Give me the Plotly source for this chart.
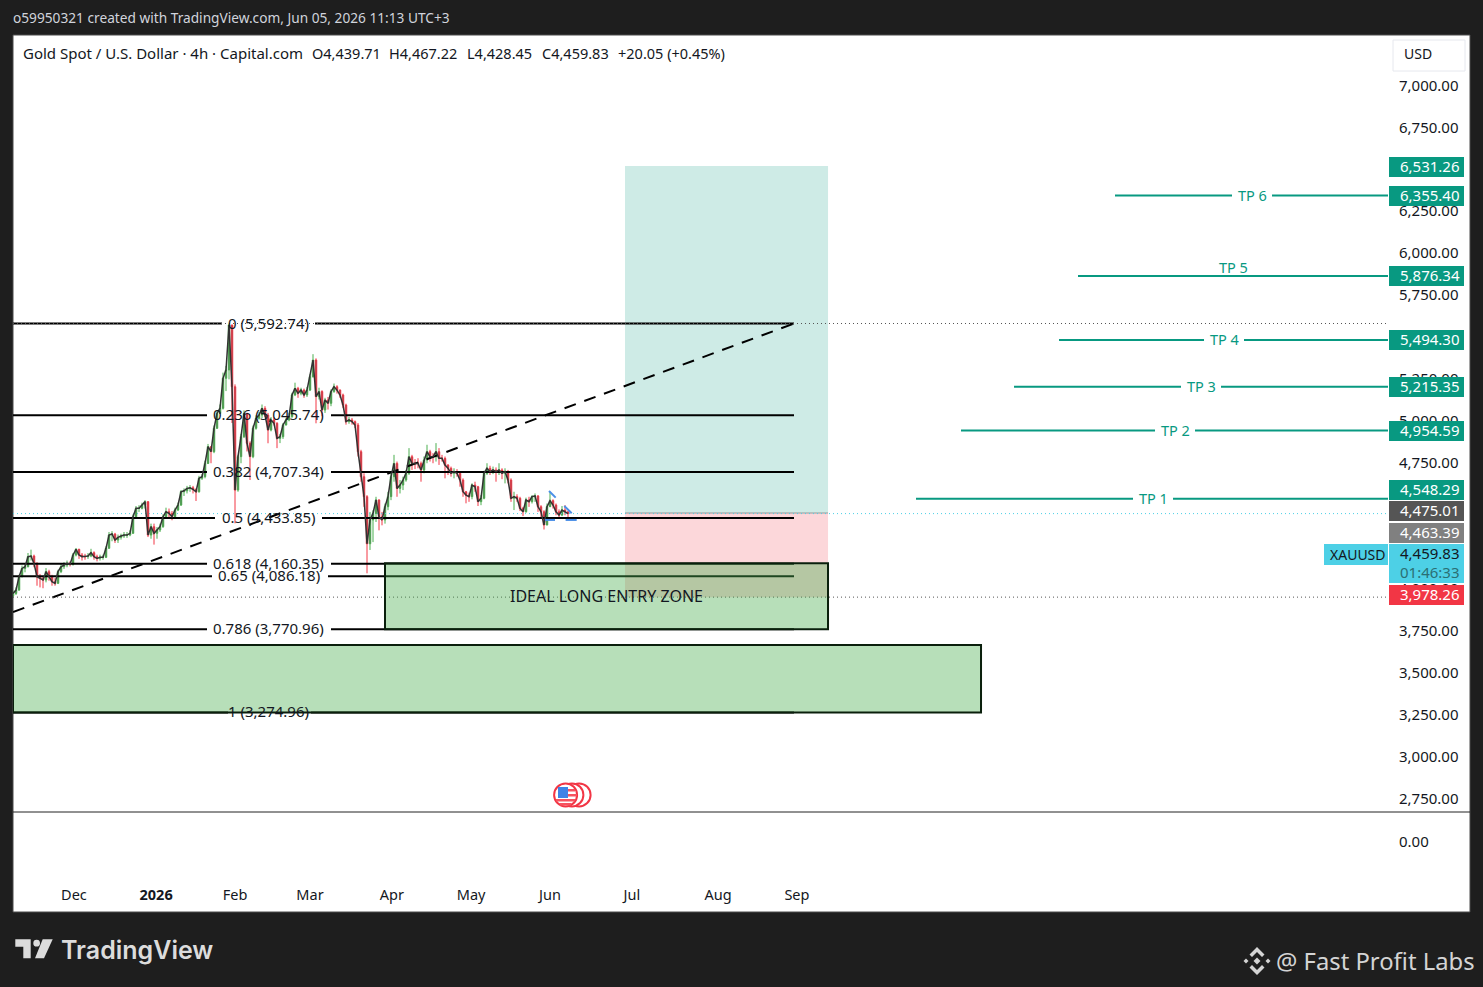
import plotly.graph_objects as go

W = 1483
H = 987

# 4h gold candles, thinned to one value per chart slot
closes = [3984,4004,4084,4133,4143,4203,4207,4163,4084,4074,
          4064,4114,4084,4054,4044,4114,4143,4153,4163,4157,
          4213,4247,4213,4203,4203,4207,4227,4203,4193,4199,
          4199,4253,4332,4338,4302,4318,4326,4332,4332,4342,
          4441,4491,4491,4511,4531,4332,4382,4342,4362,4382,
          4441,4471,4461,4441,4481,4511,4590,4596,4610,4614,
          4604,4590,4670,4680,4759,4859,4829,4968,5057,5087,
          5266,5316,5584,5216,4600,4799,4918,5057,4879,4799,
          4968,5028,5047,5087,5047,4958,5018,4998,4908,4918,
          4988,5018,5038,5167,5206,5177,5196,5167,5196,5276,
          5375,5157,5187,5077,5137,5117,5187,5216,5196,5167,
          5107,5008,5018,5008,4988,4829,4680,4561,4280,4422,
          4461,4541,4441,4422,4501,4561,4680,4759,4610,4630,
          4660,4700,4799,4759,4759,4759,4720,4779,4829,4799,
          4799,4829,4789,4789,4749,4730,4700,4710,4700,4660,
          4590,4570,4561,4630,4620,4531,4551,4700,4730,4710,
          4720,4710,4720,4700,4710,4660,4551,4561,4551,4491,
          4471,4541,4531,4561,4565,4501,4471,4392,4501,4537,
          4511,4471,4451,4481,4471,4460]
highs = [4000,4020,4095,4150,4165,4225,4245,4215,4170,4100,
         4085,4135,4125,4095,4075,4125,4160,4170,4180,4175,
         4225,4255,4250,4225,4220,4225,4250,4235,4215,4215,
         4215,4265,4350,4355,4345,4335,4340,4350,4350,4360,
         4455,4505,4510,4525,4540,4500,4400,4400,4380,4400,
         4455,4495,4490,4475,4495,4525,4600,4610,4625,4630,
         4625,4610,4685,4695,4775,4875,4860,4985,5075,5110,
         5300,5340,5592,5575,5230,4810,4935,5075,5060,4890,
         4985,5045,5065,5110,5100,5060,5035,5035,5005,4935,
         5000,5030,5060,5180,5240,5215,5210,5205,5215,5290,
         5410,5385,5210,5195,5150,5155,5200,5235,5225,5200,
         5175,5115,5035,5030,5015,5000,4840,4700,4570,4470,
         4480,4560,4545,4470,4520,4590,4700,4810,4770,4660,
         4680,4720,4850,4810,4785,4790,4770,4800,4870,4840,
         4820,4880,4850,4810,4800,4755,4740,4730,4725,4710,
         4670,4595,4585,4640,4650,4625,4570,4715,4760,4745,
         4740,4735,4760,4730,4730,4720,4670,4590,4575,4560,
         4500,4555,4560,4570,4580,4570,4510,4480,4520,4590,
         4545,4520,4485,4505,4510,4467]
lows = [3960,3975,4000,4080,4110,4140,4180,4140,4030,4020,
        4015,4050,4060,4030,4030,4040,4105,4130,4140,4145,
        4150,4205,4190,4180,4185,4190,4200,4185,4175,4180,
        4185,4195,4250,4295,4285,4285,4305,4315,4315,4325,
        4340,4435,4470,4485,4490,4320,4310,4275,4310,4350,
        4375,4430,4435,4420,4435,4475,4505,4565,4580,4590,
        4580,4535,4585,4660,4670,4755,4760,4820,4965,5060,
        5080,5190,5260,5000,4402,4590,4760,4910,4830,4660,
        4790,4960,5020,5030,5035,4879,4950,4985,4850,4880,
        4905,4985,5010,5030,5160,5150,5165,5150,5155,5190,
        5270,4998,5140,5040,5060,5080,5100,5180,5175,5150,
        5090,4990,4995,4990,4970,4800,4650,4500,4104,4243,
        4290,4410,4360,4390,4400,4480,4540,4650,4560,4580,
        4600,4650,4690,4720,4725,4730,4650,4700,4760,4770,
        4760,4770,4750,4770,4670,4690,4680,4670,4680,4620,
        4560,4521,4530,4545,4590,4505,4510,4545,4690,4690,
        4695,4650,4690,4665,4640,4640,4530,4481,4530,4475,
        4445,4465,4500,4520,4530,4470,4440,4365,4390,4500,
        4490,4450,4430,4445,4450,4428]
opens = [3970] + closes[:-1]

# time axis
month_labels = ["Dec", "<b>2026</b>", "Feb", "Mar", "Apr", "May", "Jun", "Jul", "Aug", "Sep"]
month_slots = [20.3, 47.7, 74, 99, 126.3, 152.7, 179, 206.3, 235, 261.3]
# 4250, 4500, 5500 and 6500 sit fully behind the price tags in the picture
price_ticks = [2750, 3000, 3250, 3500, 3750, 4000, 4750, 5000, 5250,
               5750, 6000, 6250, 6750, 7000]

# fib retracement
fib_labels = ["0 (5,592.74)", "0.236 (5,045.74)", "0.382 (4,707.34)", "0.5 (4,433.85)",
              "0.618 (4,160.35)", "0.65 (4,086.18)", "0.786 (3,770.96)", "1 (3,274.96)"]
fib_prices = [5592.74, 5045.74, 4707.34, 4433.85, 4160.35, 4086.18, 3770.96, 3274.96]
fib_gap_start = [69.67, 64.67, 64.67, 67.33, 64.67, 66.33, 64.67, 71.67]
fib_gap_end = [100.67, 106, 106, 103, 106, 105, 106, 99.33]
fib_end = 260.33
fib_label_slot = 85.3
trend_slots = [0, 260.33]
trend_prices = [3873, 5592.74]

# take profit levels
tp_names = ["TP 6", "TP 5", "TP 4", "TP 3", "TP 2", "TP 1"]
tp_prices = [6355.40, 5876.34, 5494.30, 5215.35, 4954.59, 4548.29]
tp_start = [367.33, 355, 348.67, 333.67, 316, 301]
tp_gap_start = [406.33, None, 397, 389.33, 380.67, 373.33]
tp_gap_end = [419.67, None, 410.33, 402.67, 394, 386.67]
tp_label_slot = [413, 406.67, 403.67, 396, 387.33, 380]
axis_end = 458.33

# long position and zones
target = 6531.26
entry = 4463.39
stop = 3962
pos_slots = [204, 271.67]
ideal_slots = [124, 271.67]
ideal_prices = [3771, 4164]
lower_slots = [0, 322.67]
lower_prices = [3275, 3677]
last_price = 4459.83

# small blue pattern at the end of the candles
pattern_slots = [[178.67, 180.9], [183.77, 186.23], [177.33, 180.67], [184.2, 187.9]]
pattern_prices = [[4594, 4555], [4505, 4462], [4422, 4422], [4422, 4422]]

# event marks
event_slots = [188.7, 186.3, 184.2]
event_price = 2783

# price scale tags
tag_text = ["6,531.26", "6,355.40", "5,876.34", "5,494.30", "5,215.35", "4,954.59", "4,548.29",
            "4,475.01", "4,463.39", "4,459.83", "01:46:33", "3,978.26"]
tag_colors = ["#089981", "#089981", "#089981", "#089981", "#089981", "#089981", "#089981",
              "#555555", "#808080", "#4dd0e6", "#4dd0e6", "#f23645"]
tag_font = ["white"] * 9 + ["#131722", "#2b6f73", "white"]
tag_pixel_y = [167, 196, 276, 340, 387, 431, 490, 511, 533, 554, 573, 595]

FONT = "Noto Sans"


def px(x):
    return x / W


def py(y):
    return 1 - y / H


def path(points):
    return "M " + " L ".join(f"{px(x)},{py(y)}" for x, y in points) + " Z"


fig = go.Figure()

# fib lines
for i in range(len(fib_prices)):
    fig.add_trace(go.Scatter(
        x=[0, fib_gap_start[i], None, fib_gap_end[i], fib_end],
        y=[fib_prices[i], fib_prices[i], None, fib_prices[i], fib_prices[i]],
        mode="lines", line=dict(color="black", width=2), hoverinfo="skip"
    ))

fig.add_trace(go.Scatter(x=trend_slots, y=trend_prices, mode="lines",
                         line=dict(color="black", width=2, dash="12px,9px"), hoverinfo="skip"))

# dotted price lines
for level, colour in [(fib_prices[0], "#555555"), (stop, "#555555"), (last_price, "#4dd0e6")]:
    fig.add_trace(go.Scatter(x=[0, axis_end], y=[level, level], mode="lines",
                             line=dict(color=colour, width=1, dash="1px,3px"), hoverinfo="skip"))

# candles
fig.add_trace(go.Candlestick(
    x=list(range(len(closes))), open=opens, high=highs, low=lows, close=closes,
    increasing=dict(line=dict(color="#4caf50", width=1), fillcolor="#333333"),
    decreasing=dict(line=dict(color="#f23645", width=1), fillcolor="#333333"),
    whiskerwidth=0
))
fig.add_trace(go.Scatter(x=list(range(len(closes))), y=closes, mode="lines",
                         line=dict(color="#333333", width=1.5), hoverinfo="skip"))

# blue pattern
for xs, ys in zip(pattern_slots, pattern_prices):
    fig.add_trace(go.Scatter(x=xs, y=ys, mode="lines", line=dict(color="#4a8fe7", width=2),
                             hoverinfo="skip"))

# TP lines
for i in range(len(tp_prices)):
    p = tp_prices[i]
    if tp_gap_start[i] is None:
        xs, ys = [tp_start[i], axis_end], [p, p]
    else:
        xs = [tp_start[i], tp_gap_start[i], None, tp_gap_end[i], axis_end]
        ys = [p, p, None, p, p]
    fig.add_trace(go.Scatter(x=xs, y=ys, mode="lines", line=dict(color="#089981", width=2),
                             hoverinfo="skip"))

# events
fig.add_trace(go.Scatter(x=event_slots, y=[event_price] * 3, mode="markers",
                         marker=dict(size=23, color="white", line=dict(color="#f23645", width=2)),
                         hoverinfo="skip"))

# second pane keeps the 0.00 scale
fig.add_trace(go.Scatter(x=[0], y=[0], yaxis="y2", mode="markers", marker=dict(opacity=0),
                         hoverinfo="skip"))

shapes = [
    # chart frame
    dict(type="rect", xref="paper", yref="paper", x0=px(13), x1=px(1470), y0=py(912), y1=py(35),
         fillcolor="white", line=dict(color="#4a4a4a", width=1), layer="below"),
    # long position
    dict(type="rect", x0=pos_slots[0], x1=pos_slots[1], y0=entry, y1=target,
         fillcolor="rgba(8,153,129,0.2)", line_width=0, layer="below"),
    dict(type="rect", x0=pos_slots[0], x1=pos_slots[1], y0=stop, y1=entry,
         fillcolor="rgba(242,54,69,0.2)", line_width=0, layer="below"),
    dict(type="line", x0=pos_slots[0], x1=pos_slots[1], y0=entry, y1=entry,
         line=dict(color="#999999", width=1), layer="below"),
    # zones
    dict(type="rect", x0=ideal_slots[0], x1=ideal_slots[1], y0=ideal_prices[0], y1=ideal_prices[1],
         fillcolor="rgba(76,175,80,0.4)", line=dict(color="#0a1f0c", width=2), layer="above"),
    dict(type="rect", x0=lower_slots[0], x1=lower_slots[1], y0=lower_prices[0], y1=lower_prices[1],
         fillcolor="rgba(76,175,80,0.4)", line=dict(color="#0a1f0c", width=2), layer="above"),
    # pane divider
    dict(type="line", xref="paper", yref="paper", x0=px(13), x1=px(1470), y0=py(812), y1=py(812),
         line=dict(color="#222222", width=1), layer="above"),
    # USD button
    dict(type="rect", xref="paper", yref="paper", x0=px(1393), x1=px(1465), y0=py(71), y1=py(40),
         fillcolor="white", line=dict(color="#e6e8ee", width=1), layer="below"),
    # TradingView logo
    dict(type="path", xref="paper", yref="paper", line_width=0, fillcolor="#dcdcdc",
         path=path([(15.3, 939.3), (30.7, 939.3), (30.7, 958.3), (23.3, 958.3), (23.3, 946.7), (15.3, 946.7)])),
    dict(type="circle", xref="paper", yref="paper", line_width=0, fillcolor="#dcdcdc",
         x0=px(33.3), x1=px(40), y0=py(946.5), y1=py(939.8)),
    dict(type="path", xref="paper", yref="paper", line_width=0, fillcolor="#dcdcdc",
         path=path([(42.7, 939.3), (52.7, 939.3), (44, 958.3), (35, 958.3)])),
]

# Binance style mark next to the watermark
mark_colour = "#d4d4d4"
for poly in [
    [(1257, 947), (1264.5, 954.5), (1262, 957), (1257, 952), (1252, 957), (1249.5, 954.5)],
    [(1257, 975), (1264.5, 967.5), (1262, 965), (1257, 970), (1252, 965), (1249.5, 967.5)],
    [(1257, 957.5), (1260.5, 961), (1257, 964.5), (1253.5, 961)],
    [(1246, 958.5), (1248.5, 961), (1246, 963.5), (1243.5, 961)],
    [(1268, 958.5), (1270.5, 961), (1268, 963.5), (1265.5, 961)],
]:
    shapes.append(dict(type="path", xref="paper", yref="paper", line_width=0,
                       fillcolor=mark_colour, path=path(poly)))

# flag inside the front event circle
for y0, x0, x1 in [(790, 568, 575), (795, 568, 577), (800, 556, 575), (804, 560, 571)]:
    shapes.append(dict(type="rect", xref="paper", yref="paper", x0=px(x0), x1=px(x1),
                       y0=py(y0 + 1.5), y1=py(y0 - 1), fillcolor="#f7525f", line_width=0))
shapes.append(dict(type="rect", xref="paper", yref="paper", x0=px(558), x1=px(568),
                   y0=py(798), y1=py(787), fillcolor="#3f83e6", line_width=0))

# price scale tag backgrounds cover the axis labels behind them
for colour, y in zip(tag_colors, tag_pixel_y):
    shapes.append(dict(type="rect", xref="paper", yref="paper", x0=px(1389), x1=px(1464),
                       y0=py(y + 10), y1=py(y - 10), fillcolor=colour, line_width=0, layer="above"))
shapes.append(dict(type="rect", xref="paper", yref="paper", x0=px(1324), x1=px(1388),
                   y0=py(565), y1=py(544), fillcolor="#4dd0e6", line_width=0, layer="above"))

annotations = []


def add_text(text, x, y, size=15, color="#131722", anchor="left", family=FONT, weight=None):
    f = dict(family=family, size=size, color=color)
    if weight:
        f["weight"] = weight
    annotations.append(dict(text=text, xref="paper", yref="paper", x=px(x), y=py(y),
                            xanchor=anchor, yanchor="middle", showarrow=False, font=f))


# header and footer text
add_text("o59950321 created with TradingView.com, Jun 05, 2026 11:13 UTC+3", 11, 18, size=13.7, color="#d1d4dc")
add_text("Gold Spot / U.S. Dollar · 4h · Capital.com", 21, 53)
add_text("O4,439.71", 310, 53, size=14.5)
add_text("H4,467.22", 387, 53, size=14.5)
add_text("L4,428.45", 465, 53, size=14.5)
add_text("C4,459.83", 540, 53, size=14.5)
add_text("+20.05 (+0.45%)", 616, 53, size=14.5)
add_text("USD", 1402, 54, size=14)
add_text("TradingView", 59, 950, size=25, color="#dcdcdc", family="Inter", weight=600)
add_text("@ Fast Profit Labs", 1274, 961, size=23.8, color="#d4d4d4")

# fib labels sit on the levels
for label, price in zip(fib_labels, fib_prices):
    annotations.append(dict(text=label, x=fib_label_slot, y=price, yshift=1, xanchor="center", yanchor="middle",
                            showarrow=False, font=dict(family=FONT, size=15, color="#131722")))

# TP names
for i in range(len(tp_names)):
    shift = 9 if tp_gap_start[i] is None else 1
    annotations.append(dict(text=tp_names[i], x=tp_label_slot[i], y=tp_prices[i], yshift=shift,
                            xanchor="center", yanchor="middle", showarrow=False,
                            font=dict(family=FONT, size=14.5, color="#089981")))

annotations.append(dict(text="IDEAL LONG ENTRY ZONE", x=197.67, y=3970, xanchor="center", yanchor="middle",
                        showarrow=False, font=dict(family=FONT, size=16, color="#131722")))

# price scale tags
for text, font_colour, y in zip(tag_text, tag_font, tag_pixel_y):
    add_text(text, 1398, y - 1, color=font_colour)
add_text("XAUUSD", 1328, 554, size=14)

fig.update_layout(
    width=W, height=H,
    margin=dict(l=0, r=0, t=0, b=0),
    paper_bgcolor="#1e1e1e",
    plot_bgcolor="rgba(0,0,0,0)",
    showlegend=False,
    font=dict(family=FONT, size=15, color="#131722"),
    shapes=shapes,
    annotations=annotations,
    xaxis=dict(domain=[px(13), px(1388)], range=[0, axis_end], anchor="y2",
               tickvals=month_slots, ticktext=month_labels, ticks="outside", ticklen=10,
               tickcolor="rgba(0,0,0,0)", tickfont=dict(size=14.5), showgrid=False,
               zeroline=False, showline=False, rangeslider=dict(visible=False)),
    yaxis=dict(domain=[py(812), py(36)], range=[2681.4, 7306.3], side="right", anchor="x",
               tickvals=price_ticks, tickformat=",.2f", ticks="outside", ticklen=7,
               ticklabelshift=-2, tickcolor="rgba(0,0,0,0)", showgrid=False, zeroline=False, showline=False),
    yaxis2=dict(domain=[py(872), py(812)], range=[-1, 1], side="right", anchor="x",
                tickvals=[0], tickformat=".2f", ticks="outside", ticklen=7,
                tickcolor="rgba(0,0,0,0)", showgrid=False, zeroline=False, showline=False),
)

fig.write_html("out.html", config={"displayModeBar": False},
               post_script="document.body.style.margin='0';document.body.style.background='#1e1e1e';")
